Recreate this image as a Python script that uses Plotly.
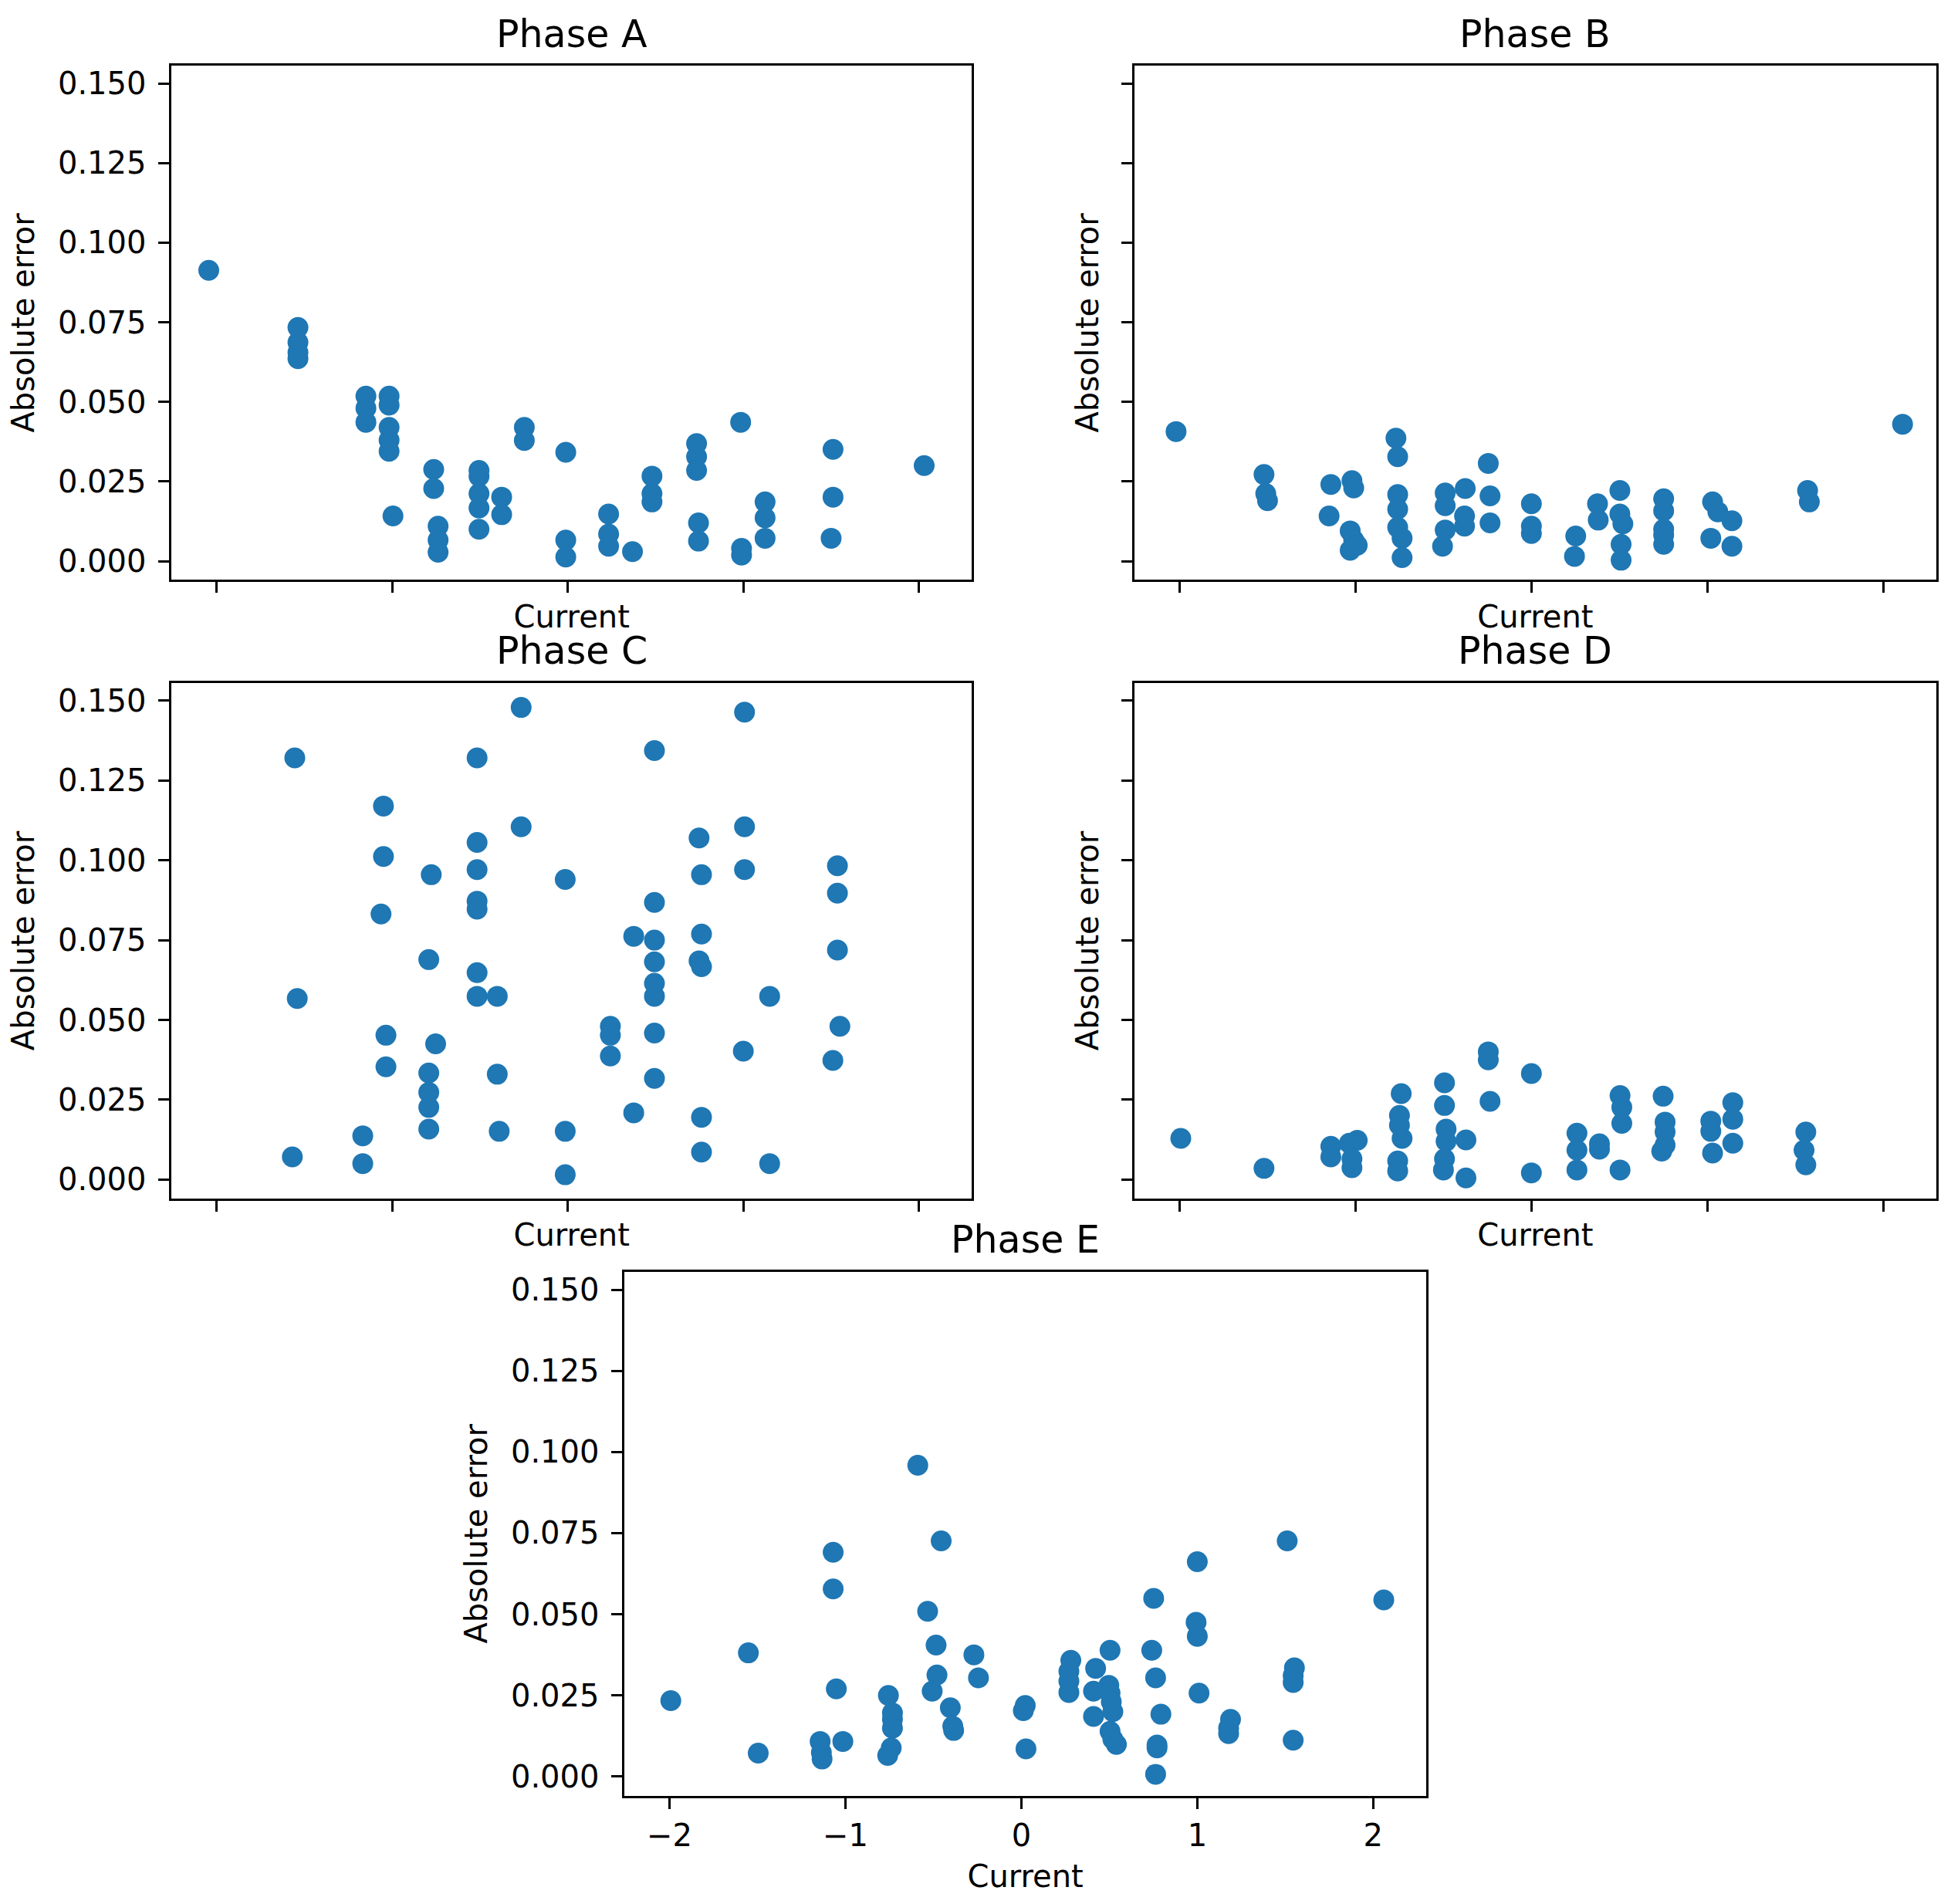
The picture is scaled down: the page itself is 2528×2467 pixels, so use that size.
import plotly.graph_objects as go

# ---- data: current vs absolute error, one pair of lists per phase ----
phase_names = ["Phase A", "Phase B", "Phase C", "Phase D", "Phase E"]

a_current = [-2.044, -1.536, -1.536, -1.536, -1.536, -1.149, -1.149, -1.149, -1.017, -1.017,
             -1.017, -1.017, -1.017, -0.995, -0.763, -0.763, -0.738, -0.738, -0.738, -0.505,
             -0.505, -0.505, -0.505, -0.505, -0.376, -0.376, -0.247, -0.247, -0.011, -0.011,
             -0.011, 0.233, 0.233, 0.233, 0.369, 0.48, 0.48, 0.48, 0.734, 0.734,
             0.734, 0.745, 0.745, 0.985, 0.99, 0.99, 1.124, 1.124, 1.124, 1.511,
             1.511, 1.50, 2.03]
a_error = [0.0913, 0.0734, 0.0687, 0.0655, 0.0636, 0.0518, 0.048, 0.0436, 0.0518, 0.049,
           0.042, 0.038, 0.0345, 0.0142, 0.0288, 0.0228, 0.011, 0.0066, 0.0028, 0.0266,
           0.0285, 0.0212, 0.0167, 0.010, 0.0201, 0.0146, 0.042, 0.0379, 0.0342, 0.0066,
           0.0013, 0.0148, 0.0085, 0.0047, 0.003, 0.0267, 0.0212, 0.0186, 0.0369, 0.0328,
           0.0285, 0.012, 0.0063, 0.0436, 0.004, 0.0019, 0.0186, 0.0136, 0.0072, 0.0351,
           0.0201, 0.0072, 0.030]

b_current = [-2.02, -1.52, -1.51, -1.50, -1.14, -1.02, -1.01, -1.15, -1.03, -1.01,
             -1.03, -0.99, -0.77, -0.76, -0.76, -0.76, -0.76, -0.735, -0.735, -0.49,
             -0.49, -0.376, -0.38, -0.38, -0.49, -0.505, -0.245, -0.235, -0.235, 0.0,
             0.0, 0.0, 0.252, 0.245, 0.376, 0.38, 0.503, 0.503, 0.52, 0.51,
             0.51, 0.752, 0.752, 0.752, 0.752, 0.752, 1.03, 1.06, 1.14, 1.02,
             1.14, 1.57, 1.58, 2.11]
b_error = [0.0407, 0.0272, 0.0212, 0.019, 0.0241, 0.0253, 0.023, 0.0142, 0.0095, 0.0066,
           0.0034, 0.005, 0.0386, 0.0328, 0.0209, 0.0163, 0.0106, 0.0072, 0.0011, 0.0214,
           0.0174, 0.0228, 0.0142, 0.011, 0.0098, 0.0047, 0.0307, 0.0205, 0.012, 0.018,
           0.011, 0.0087, 0.0079, 0.0015, 0.018, 0.0129, 0.0222, 0.0148, 0.0117, 0.0053,
           0.0003, 0.0196, 0.0158, 0.010, 0.0082, 0.0053, 0.0186, 0.0155, 0.0127, 0.0072,
           0.0047, 0.0222, 0.0186, 0.043]

c_current = [-1.554, -1.54, -1.568, -1.049, -1.049, -1.063, -1.035, -1.035, -1.167, -1.167,
             -0.777, -0.791, -0.752, -0.791, -0.791, -0.791, -0.791, -0.516, -0.516, -0.516,
             -0.516, -0.516, -0.516, -0.516, -0.401, -0.401, -0.39, -0.265, -0.265, -0.014,
             -0.014, -0.014, 0.243, 0.243, 0.243, 0.376, 0.376, 0.494, 0.494, 0.494,
             0.494, 0.494, 0.494, 0.494, 0.494, 0.748, 0.762, 0.762, 0.748, 0.762,
             0.762, 0.762, 1.007, 1.007, 1.007, 1.0, 1.15, 1.15, 1.536, 1.536,
             1.536, 1.55, 1.51]
c_error = [0.1321, 0.0567, 0.0071, 0.117, 0.1012, 0.0832, 0.0452, 0.0353, 0.0137, 0.005,
           0.0955, 0.0689, 0.0425, 0.0334, 0.0273, 0.0226, 0.0158, 0.1321, 0.1056, 0.0971,
           0.0872, 0.0847, 0.0648, 0.0574, 0.0574, 0.033, 0.0151, 0.1479, 0.1105, 0.094,
           0.0151, 0.0015, 0.048, 0.0452, 0.0387, 0.0762, 0.0209, 0.1344, 0.0868, 0.075,
           0.0682, 0.0615, 0.0574, 0.0459, 0.0317, 0.107, 0.0955, 0.0769, 0.0685, 0.0667,
           0.0195, 0.0086, 0.1464, 0.1105, 0.0971, 0.0402, 0.0574, 0.005, 0.0983, 0.0897,
           0.0719, 0.048, 0.0373]

d_current = [-1.993, -1.52, -1.14, -1.14, -1.035, -0.99, -1.02, -1.02, -0.74, -0.75,
             -0.75, -0.735, -0.76, -0.76, -0.494, -0.494, -0.485, -0.485, -0.494, -0.50,
             -0.372, -0.372, -0.245, -0.245, -0.235, 0.0, 0.0, 0.259, 0.259, 0.259,
             0.387, 0.387, 0.504, 0.514, 0.514, 0.504, 0.749, 0.76, 0.76, 0.741,
             0.76, 1.02, 1.02, 1.03, 1.145, 1.145, 1.145, 1.56, 1.55, 1.56]
d_error = [0.0129, 0.0035, 0.0104, 0.0071, 0.0114, 0.0123, 0.0037, 0.0065, 0.0269, 0.0201,
           0.017, 0.0129, 0.0058, 0.0027, 0.0303, 0.0232, 0.0158, 0.012, 0.0065, 0.003,
           0.0124, 0.0005, 0.04, 0.0375, 0.0245, 0.0332, 0.0021, 0.0145, 0.0092, 0.003,
           0.0112, 0.0095, 0.0263, 0.0226, 0.0176, 0.003, 0.0261, 0.018, 0.0149, 0.0089,
           0.0108, 0.0183, 0.0151, 0.0083, 0.0241, 0.0189, 0.0114, 0.0149, 0.0092, 0.0046]

e_current = [-1.993, -1.552, -1.496, -1.07, -1.07, -1.052, -1.144, -1.137, -1.133, -1.015,
             -0.756, -0.733, -0.733, -0.733, -0.74, -0.76, -0.589, -0.456, -0.533, -0.485,
             -0.48, -0.507, -0.404, -0.39, -0.385, -0.27, -0.244, 0.011, 0.022, 0.026,
             0.281, 0.27, 0.27, 0.27, 0.422, 0.41, 0.41, 0.504, 0.497, 0.504,
             0.511, 0.52, 0.504, 0.52, 0.54, 0.752, 0.741, 0.763, 0.793, 0.771,
             0.771, 0.763, 1.0, 0.993, 1.0, 1.01, 1.189, 1.178, 1.178, 1.511,
             1.552, 1.545, 1.545, 1.545, 2.06]
e_error = [0.0234, 0.0381, 0.0072, 0.0691, 0.0578, 0.027, 0.0108, 0.0074, 0.0054, 0.0108,
           0.025, 0.0196, 0.0176, 0.0149, 0.0088, 0.0065, 0.0959, 0.0726, 0.0509, 0.0405,
           0.0313, 0.0263, 0.0212, 0.0155, 0.0142, 0.0375, 0.0304, 0.0203, 0.0219, 0.0085,
           0.0358, 0.0324, 0.0294, 0.0259, 0.0333, 0.0263, 0.0185, 0.0389, 0.0281, 0.0257,
           0.023, 0.020, 0.0139, 0.0115, 0.0099, 0.0549, 0.0389, 0.0304, 0.0192, 0.0097,
           0.0088, 0.0007, 0.0662, 0.0475, 0.0432, 0.0257, 0.0176, 0.0149, 0.0132, 0.0726,
           0.0335, 0.0311, 0.029, 0.0112, 0.0544]

x_ticks = [-2, -1, 0, 1, 2]
y_ticks = [0.0, 0.025, 0.05, 0.075, 0.1, 0.125, 0.15]

# ---- layout geometry (paper fractions) ----
W, H = 2528, 2467
FONT = "DejaVu Sans"
BLUE = "#1f77b4"

series = [(a_current, a_error), (b_current, b_error), (c_current, c_error),
          (d_current, d_error), (e_current, e_error)]
x_domains = [[0.088, 0.498], [0.5816, 0.9923], [0.088, 0.498], [0.5816, 0.9923], [0.3202, 0.7309]]
y_domains = [[0.6954, 0.9654], [0.6954, 0.9654], [0.3706, 0.6412], [0.3706, 0.6412], [0.0569, 0.332]]
title_y = [0.9820, 0.9820, 0.6580, 0.6580, 0.349]

fig = go.Figure()
layout = {}
for i, ((xs, ys), name) in enumerate(zip(series, phase_names)):
    n = i + 1
    sfx = "" if n == 1 else str(n)
    fig.add_trace(go.Scatter(
        x=xs, y=ys, mode="markers", name=name,
        marker=dict(color=BLUE, size=27, line=dict(width=0)),
        xaxis="x" + sfx, yaxis="y" + sfx, showlegend=False,
    ))
    common = dict(showline=True, mirror=True, linecolor="black", linewidth=3,
                  ticks="outside", ticklen=14, tickwidth=3, tickcolor="black",
                  showgrid=False, zeroline=False,
                  tickfont=dict(family=FONT, size=40, color="black"))
    layout["xaxis" + sfx] = dict(
        common, domain=x_domains[i], anchor="y" + sfx, range=[-2.255, 2.30],
        tickvals=x_ticks, showticklabels=(n == 5),
        title=dict(text="Current", font=dict(family=FONT, size=40, color="black"), standoff=18),
    )
    layout["yaxis" + sfx] = dict(
        common, domain=y_domains[i], anchor="x" + sfx, range=[-0.0059, 0.1555],
        tickvals=y_ticks, tickformat=".3f", showticklabels=(n in (1, 3, 5)),
        ticklabelstandoff=8,
        title=dict(text="Absolute error", font=dict(family=FONT, size=40, color="black"), standoff=18),
    )
    fig.add_annotation(
        text=name, xref="paper", yref="paper",
        x=sum(x_domains[i]) / 2, y=title_y[i], xanchor="center", yanchor="middle",
        showarrow=False, font=dict(family=FONT, size=49, color="black"),
    )

fig.update_layout(
    width=W, height=H, margin=dict(l=0, r=0, t=0, b=0),
    paper_bgcolor="white", plot_bgcolor="white",
    font=dict(family=FONT, color="black"),
    **layout,
)

fig.write_html("out.html", config={"displayModeBar": False},
               post_script="document.body.style.margin = '0';")
